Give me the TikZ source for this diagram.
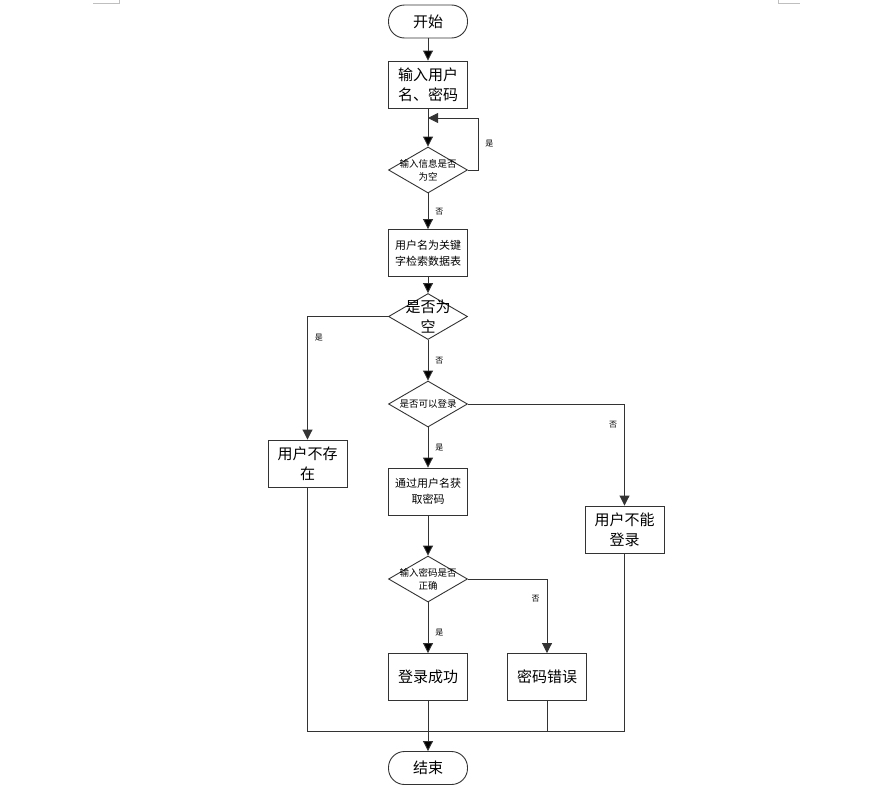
\documentclass[tikz,border=0pt]{standalone}
\usepackage{fontspec}
\setmainfont{Noto Sans CJK SC}
\usetikzlibrary{arrows,arrows.meta,shapes.geometric,positioning,calc}
\tikzset{%
        x = 1pt,
        y = -1pt,
        >={Triangle[length=10pt,width=10pt]}
}
\tikzstyle{box}=[
    draw = black!80,
    line width = 0.9pt,
    fill = white,
    minimum width = 79pt,
    minimum height = 47pt,
    align = center,
    inner sep = 1pt,
    font = \fontsize{15}{20}\selectfont
]
\tikzstyle{term}=[
    box,
    rounded corners = 16pt,
    minimum height = 33pt
]
\tikzstyle{smalltext}=[
    font = \fontsize{11}{16}\selectfont
]
\tikzstyle{check}=[
    diamond,
    draw = black!80,
    line width = 0.9pt,
    fill = white,
    aspect = 1.72,
    minimum width = 79pt,
    minimum height = 46pt,
    inner sep = -6pt,
    align = center,
    font = \fontsize{9.5}{13}\selectfont
]
\tikzstyle{line}=[
    draw = black!80,
    line width = 0.9pt
]
\tikzstyle{flow}=[
    line,
    ->
]
\tikzstyle{lbl}=[
    font = \fontsize{8}{8}\selectfont,
    inner sep = 1pt
]

\begin{document}
\begin{tikzpicture}
    \useasboundingbox (0,0) rectangle (877,787);
    % page corner marks
    \draw[black!25, line width=0.6pt] (93,3) -- (119,3) -- (119,0);
    \draw[black!25, line width=0.6pt] (778,0) -- (778,3) -- (800,3);

    \node[term] (start) at (428,21.5) {开始};
    \node[box] (input) at (428,84.5) {输入用户\\名、密码};
    \node[check] (isempty) at (428,170) {输入信息是否\\为空};
    \node[box, smalltext] (search) at (428,253) {用户名为关键\\字检索数据表};
    \node[check, font=\fontsize{15}{20}\selectfont] (found) at (428,316.5) {是否为\\空};
    \node[check] (canlogin) at (428,404) {是否可以登录};
    \node[box] (nouser) at (307.5,463.5) {用户不存\\在};
    \node[box, smalltext] (getpwd) at (428,491.5) {通过用户名获\\取密码};
    \node[box] (cannot) at (624.5,529.5) {用户不能\\登录};
    \node[check] (pwdok) at (428,579) {输入密码是否\\正确};
    \node[box] (success) at (428,677) {登录成功};
    \node[box] (pwderr) at (547,677) {密码错误};
    \node[term] (end) at (428,768) {结束};
    \coordinate (loop) at (478,118);
    \coordinate (merge) at (428,731);

    \path[flow]
    (start) edge (input)
    (input) edge (isempty)
    (isempty) edge node[lbl, right=6pt] {否} (search)
    (search) edge (found)
    (found) edge node[lbl, right=6pt] {否} (canlogin)
    (canlogin) edge node[lbl, right=6pt] {是} (getpwd)
    (getpwd) edge (pwdok)
    (pwdok) edge node[lbl, pos=.6, right=6pt] {是} (success)
    (success) edge (end)
    ;
    \draw[flow] (isempty.east) -| node[lbl, pos=.75, right=6pt] {是} (loop) -- (input.south |- loop);
    \draw[flow] (found.west) -| node[lbl, pos=.585, right=6pt] {是} (nouser.north);
    \draw[flow] (canlogin.east) -| node[lbl, pos=.6, left=6pt] {否} (cannot.north);
    \draw[flow] (pwdok.east) -| node[lbl, pos=.635, left=6pt] {否} (pwderr.north);
    \draw[line] (nouser.south) |- (merge) -| (cannot.south);
    \draw[line] (pwderr.south) -- (pwderr.south |- merge);
\end{tikzpicture}
\end{document}
